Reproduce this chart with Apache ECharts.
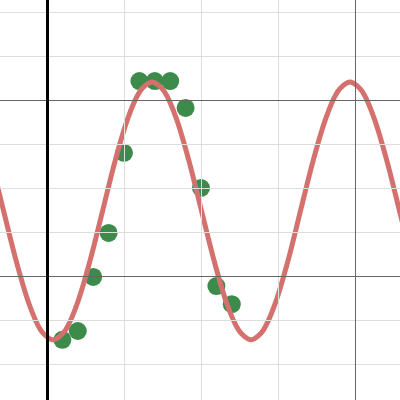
<!DOCTYPE html>
<html>
<head>
<meta charset="utf-8">
<script src="https://cdn.jsdelivr.net/npm/echarts@6/dist/echarts.min.js"></script>
<style>html,body{margin:0;padding:0;background:#fff}#chart{width:400px;height:400px}</style>
</head>
<body>
<div id="chart"></div>
<script>
const pointX = [0.2, 0.4, 0.6, 0.8, 1.0, 1.2, 1.4, 1.6, 1.8, 2.0, 2.2, 2.4];
const pointY = [2.55, 2.75, 3.98, 4.98, 6.8, 8.43, 8.43, 8.43, 7.82, 6.0, 3.77, 3.36];
// fitted curve at sixteenth-period steps
const curveX = [-0.885, -0.724, -0.564, -0.403, -0.242, -0.082, 0.079, 0.240, 0.400, 0.561, 0.722, 0.882,
  1.043, 1.204, 1.364, 1.525, 1.686, 1.846, 2.007, 2.168, 2.328, 2.489, 2.650, 2.810, 2.971, 3.132,
  3.292, 3.453, 3.614, 3.774, 3.935, 4.096, 4.256, 4.417, 4.578, 4.738];
const curveY = [7.55, 6.60, 5.48, 4.36, 3.41, 2.77, 2.55, 2.77, 3.41, 4.36, 5.48, 6.60,
  7.55, 8.19, 8.41, 8.19, 7.55, 6.60, 5.48, 4.36, 3.41, 2.77, 2.55, 2.77, 3.41, 4.36,
  5.48, 6.60, 7.55, 8.19, 8.41, 8.19, 7.55, 6.60, 5.48, 4.36];
const gridX = [1, 2, 3];
const gridY = [2, 3, 5, 6, 7, 9, 10];
const darkX = [4];
const darkY = [4, 8];

const chart = echarts.init(document.getElementById('chart'));
const light = { color: '#ddd', width: 1, type: 'solid' };
const dark = { color: '#666', width: 1, type: 'solid' };
const hidden = {
  axisLine: { show: false }, axisTick: { show: false }, axisLabel: { show: false }, splitLine: { show: false }
};
chart.setOption({
  animation: false,
  grid: { left: 0, right: 0, top: 0, bottom: 0 },
  xAxis: Object.assign({ type: 'value', min: -0.6104, max: 4.5844 }, hidden),
  yAxis: Object.assign({ type: 'value', min: 1.1818, max: 10.2727 }, hidden),
  series: [
    {
      type: 'line', silent: true, symbol: 'none', data: [],
      markLine: {
        silent: true, symbol: 'none', label: { show: false }, lineStyle: light,
        data: gridX.map(v => ({ xAxis: v })).concat(gridY.map(v => ({ yAxis: v })))
          .concat(darkX.map(v => ({ xAxis: v, lineStyle: dark })))
          .concat(darkY.map(v => ({ yAxis: v, lineStyle: dark })))
          .concat([{ xAxis: 0, lineStyle: { color: '#000', width: 3 } }])
      }
    },
    {
      type: 'line', smooth: 0.3, symbol: 'none',
      lineStyle: { color: '#d4706e', width: 5 },
      data: curveX.map((x, i) => [x, curveY[i]])
    },
    {
      type: 'scatter', symbolSize: 18,
      itemStyle: { color: '#3c8b4a', opacity: 1 },
      data: pointX.map((x, i) => [x, pointY[i]])
    }
  ]
});
</script>
</body>
</html>
